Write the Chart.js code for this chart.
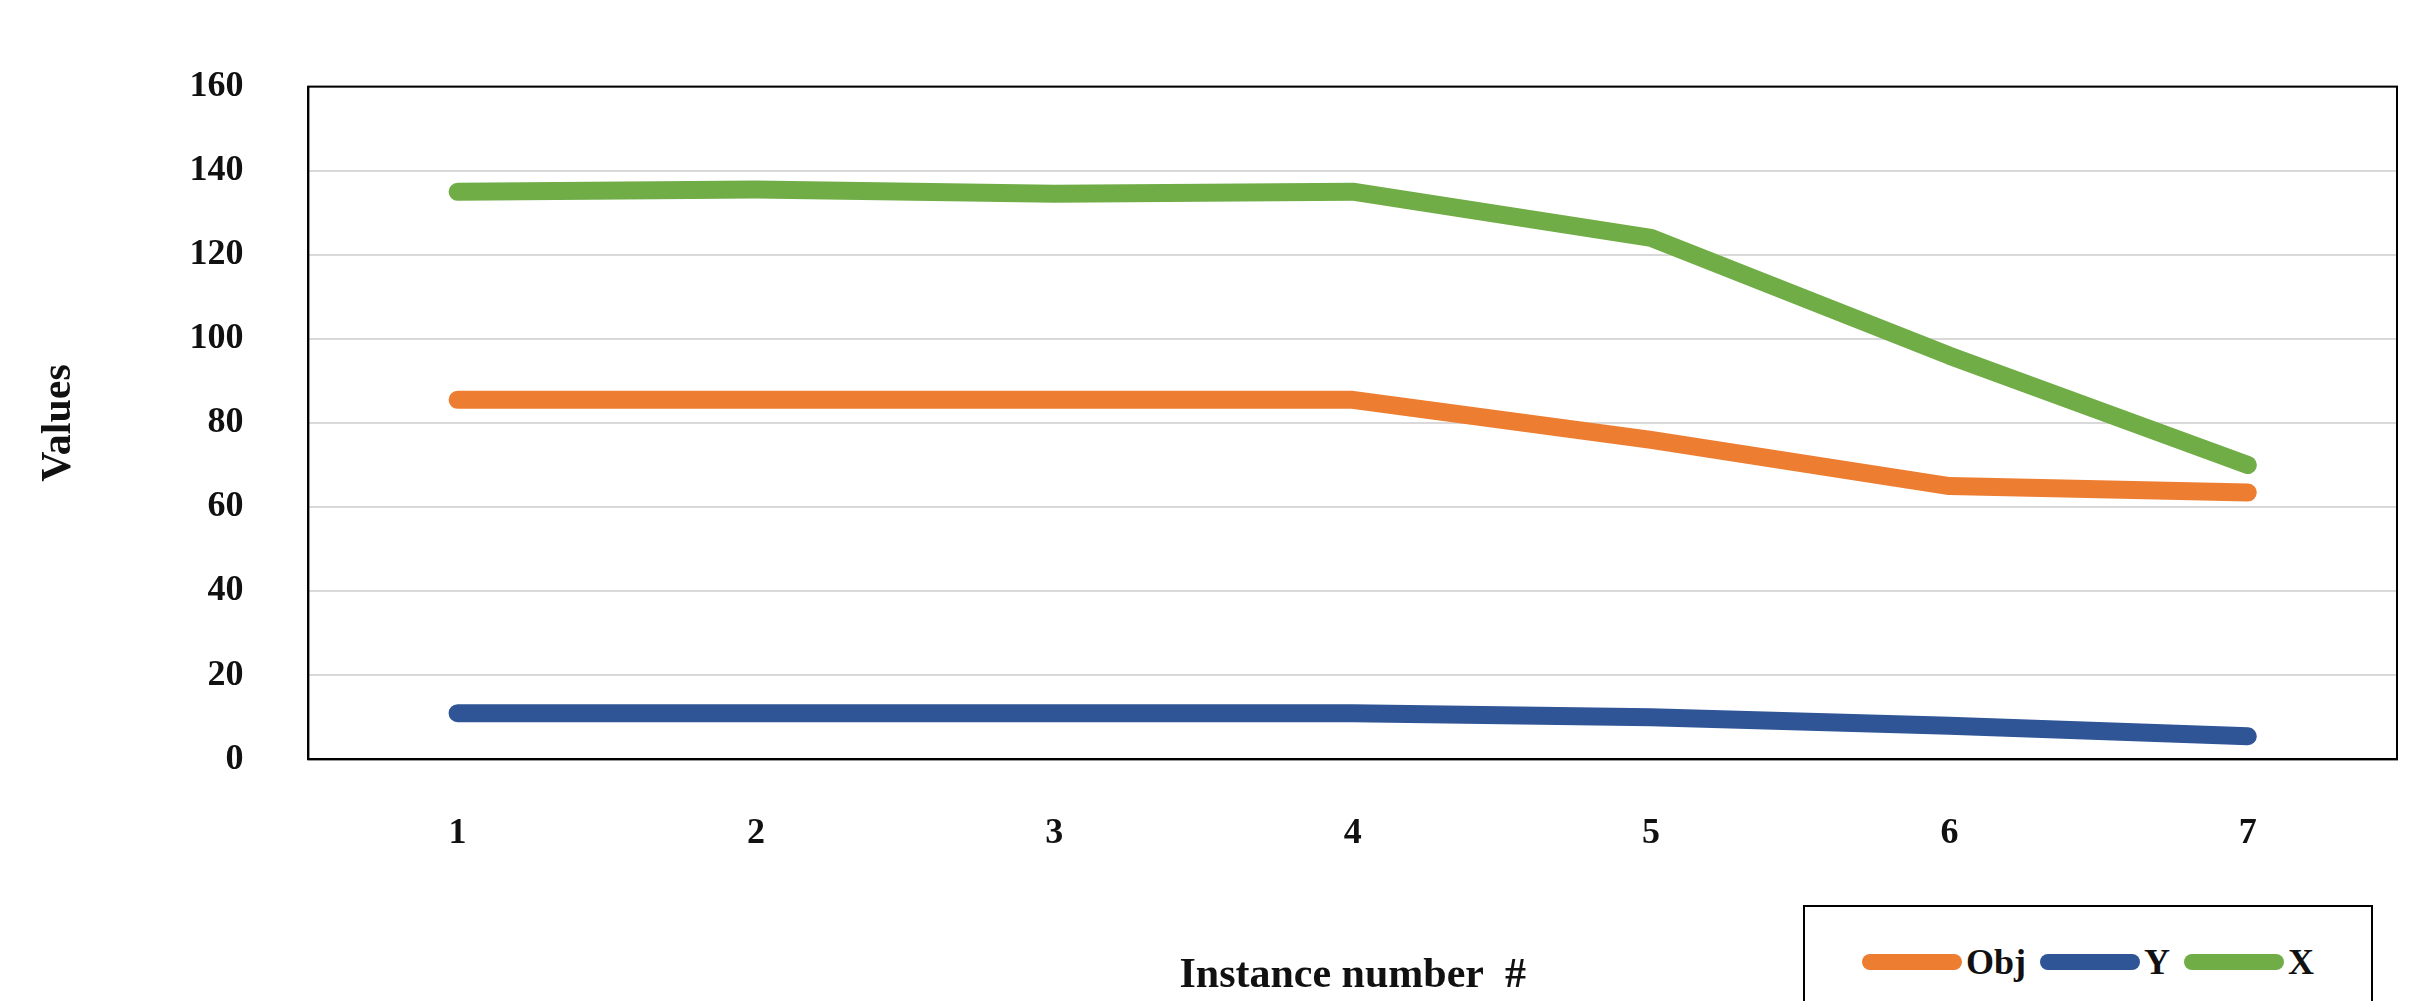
<!DOCTYPE html>
<html><head><meta charset="utf-8">
<script src="https://cdn.jsdelivr.net/npm/chart.js@4"></script>
<style>
html,body{margin:0;padding:0;background:#fff;overflow:hidden}
#wrap{position:relative;width:2427px;height:1001px}
#legend{position:absolute;left:1803px;top:905px;width:570px;height:114px;box-sizing:border-box;border:2px solid #000;background:#fff;display:flex;align-items:center;justify-content:center;gap:14px;font:bold 36px "Liberation Serif",serif;color:#111}
.it{display:flex;align-items:center;gap:4px}
.sw{width:100px;height:16px;border-radius:8px}
</style></head><body>
<div id="wrap"><canvas id="c" width="2427" height="1001"></canvas>
<div id="legend"></div></div>
<script>
const categories = ["1","2","3","4","5","6","7"];
const seriesNames = ["Obj","Y","X"];
const objValues = [85.5,85.5,85.5,85.5,76,65,63.5];
const yValues = [11,11,11,11,10,8,5.5];
const xValues = [135,135.5,134.5,135,124,96,70];
const colors = ["#ED7D31","#2F5597","#70AD47"];
const allValues = [objValues,yValues,xValues];

const lg=document.getElementById('legend');
seriesNames.forEach((n,i)=>{const d=document.createElement('div');d.className='it';
d.innerHTML='<span class="sw" style="background:'+colors[i]+'"></span><span>'+n+'</span>';lg.appendChild(d);});

const frame={id:'frame',afterDraw(c){const a=c.chartArea,x=c.ctx;x.save();x.strokeStyle='#000';x.lineWidth=2;x.strokeRect(a.left,a.top,a.right-a.left,a.bottom-a.top);x.restore();}};
const font={family:'"Liberation Serif", serif',weight:'bold',size:36};
new Chart(document.getElementById('c'),{
type:'line',
data:{labels:categories,datasets:seriesNames.map((n,i)=>({label:n,data:allValues[i],borderColor:colors[i],backgroundColor:colors[i],borderWidth:18,pointRadius:0,tension:0,borderCapStyle:'round',borderJoinStyle:'round'}))},
options:{responsive:false,devicePixelRatio:1,animation:false,
layout:{padding:{left:30,right:30,top:0,bottom:0}},
plugins:{legend:{display:false},tooltip:{enabled:false}},
scales:{
x:{offset:true,grid:{display:false},border:{color:'#000',width:2},ticks:{font,color:'#111',padding:45},
 title:{display:true,text:'Instance number  #',font:{...font,size:42},color:'#111',padding:{top:50,bottom:0}}},
y:{min:0,max:160,ticks:{stepSize:20,font,color:'#111',padding:65},grid:{color:'#d9d9d9',lineWidth:2,drawTicks:false},border:{color:'#000',width:2},
 title:{display:true,text:'Values',font:{...font,size:42},color:'#111',padding:{bottom:40}}}
}},
plugins:[frame]});
</script></body></html>
